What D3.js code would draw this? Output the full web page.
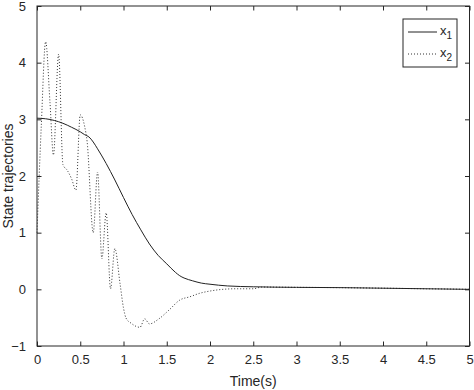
<!DOCTYPE html>
<html>
<head>
<meta charset="utf-8">
<script src="https://cdn.jsdelivr.net/npm/d3@7"></script>
<style>
    body { margin: 0; background: #fff; }
    #chart text { font-family: "Liberation Sans", Arial, sans-serif; fill: #262626; }
</style>
</head>
<body>
<div id="chart"></div>
<script>
// x1 (solid) samples
const timeX1 = [0, 0.1, 0.2, 0.3, 0.4, 0.5, 0.55, 0.6, 0.65, 0.7, 0.8, 0.9, 1.0, 1.1, 1.2, 1.3, 1.4, 1.5, 1.6, 1.65, 1.7, 1.8, 1.9, 2.0, 2.2, 2.5, 3.0, 3.5, 4.0, 4.5, 5.0];
const valuesX1 = [3.02, 3.01, 2.98, 2.93, 2.86, 2.78, 2.73, 2.69, 2.6, 2.48, 2.22, 1.93, 1.62, 1.32, 1.05, 0.8, 0.6, 0.45, 0.3, 0.24, 0.2, 0.15, 0.11, 0.09, 0.06, 0.045, 0.035, 0.03, 0.02, 0.01, 0.0];

// x2 (dotted) samples
const timeX2 = [0, 0.05, 0.1, 0.15, 0.19, 0.25, 0.3, 0.35, 0.4, 0.45, 0.5, 0.55, 0.58, 0.65, 0.7, 0.75, 0.8, 0.85, 0.9, 0.96, 1.0, 1.03, 1.09, 1.19, 1.245, 1.3, 1.41, 1.53, 1.65, 1.77, 1.88, 2.0, 2.15, 2.3, 2.5, 2.6, 3.0, 3.5, 4.0, 4.5, 5.0];
const valuesX2 = [1.0, 2.9, 4.37, 3.3, 2.37, 4.15, 2.2, 2.1, 1.95, 1.75, 3.08, 2.88, 2.6, 1.0, 2.07, 0.54, 1.35, 0.01, 0.72, 0.1, -0.33, -0.51, -0.6, -0.67, -0.52, -0.61, -0.52, -0.36, -0.19, -0.13, -0.07, -0.03, 0.0, 0.01, 0.01, 0.04, 0.035, 0.03, 0.02, 0.01, 0.0];

const xTicks = [0, 0.5, 1, 1.5, 2, 2.5, 3, 3.5, 4, 4.5, 5];
const yTicks = [-1, 0, 1, 2, 3, 4, 5];

const seriesNames = ["x1", "x2"];

document.addEventListener("DOMContentLoaded", function () {
    const margin = { top: 6, right: 4.5, bottom: 44, left: 37 },
        width = 474 - margin.left - margin.right,
        height = 390 - margin.top - margin.bottom;

    const svg = d3.select("#chart")
        .append("svg")
        .attr("width", 474)
        .attr("height", 390);

    const chart = svg.append("g")
        .attr("transform", `translate(${margin.left},${margin.top})`);

    // scales
    const x = d3.scaleLinear().domain([0, 5]).range([0, width]);
    const y = d3.scaleLinear().domain([-1, 5]).range([height, 0]);

    const line = d3.line()
        .x(d => x(d[0]))
        .y(d => y(d[1]))
        .curve(d3.curveMonotoneX);

    const dataX1 = timeX1.map((t, i) => [t, valuesX1[i]]);
    const dataX2 = timeX2.map((t, i) => [t, valuesX2[i]]);

    // curves
    chart.append("path")
        .datum(dataX2)
        .attr("fill", "none")
        .attr("stroke", "#333")
        .attr("stroke-width", 1)
        .attr("stroke-dasharray", "1,2")
        .attr("d", line);

    chart.append("path")
        .datum(dataX1)
        .attr("fill", "none")
        .attr("stroke", "#222")
        .attr("stroke-width", 1)
        .attr("d", line);

    // axes, ticks pointing inward on all four sides
    const tickLen = 4.5;
    const axisStyle = g => {
        g.select(".domain").remove();
        g.selectAll("line").attr("stroke", "#262626");
        g.selectAll("text").style("font-size", "13px");
    };

    chart.append("g")
        .attr("transform", `translate(0,${height})`)
        .call(d3.axisBottom(x).tickValues(xTicks).tickFormat(d3.format("")).tickSizeInner(-tickLen).tickPadding(9))
        .call(axisStyle);

    chart.append("g")
        .call(d3.axisTop(x).tickValues(xTicks).tickSizeInner(-tickLen).tickFormat(""))
        .call(axisStyle);

    chart.append("g")
        .call(d3.axisLeft(y).tickValues(yTicks).tickFormat(d3.format("")).tickSizeInner(-tickLen).tickPadding(11))
        .call(axisStyle);

    chart.append("g")
        .attr("transform", `translate(${width},0)`)
        .call(d3.axisRight(y).tickValues(yTicks).tickSizeInner(-tickLen).tickFormat(""))
        .call(axisStyle);

    chart.append("rect")
        .attr("width", width)
        .attr("height", height)
        .attr("fill", "none")
        .attr("stroke", "#262626")
        .attr("stroke-width", 1);

    // axis titles
    svg.append("text")
        .attr("x", margin.left + width / 2)
        .attr("y", 386)
        .attr("text-anchor", "middle")
        .style("font-size", "14px")
        .text("Time(s)");

    svg.append("text")
        .attr("transform", `translate(13,${margin.top + height / 2}) rotate(-90)`)
        .attr("text-anchor", "middle")
        .style("font-size", "14px")
        .text("State trajectories");

    // legend
    const legend = svg.append("g").attr("transform", "translate(403,19)");
    legend.append("rect")
        .attr("width", 54)
        .attr("height", 48)
        .attr("fill", "#fff")
        .attr("stroke", "#262626")
        .attr("stroke-width", 1);

    seriesNames.forEach((name, i) => {
        const ly = 13 + i * 22;
        legend.append("line")
            .attr("x1", 5).attr("x2", 34)
            .attr("y1", ly).attr("y2", ly)
            .attr("stroke", i === 0 ? "#222" : "#333")
            .attr("stroke-dasharray", i === 0 ? null : "1,2");
        const t = legend.append("text")
            .attr("x", 37)
            .attr("y", ly + 3)
            .style("font-size", "13px");
        t.append("tspan").text(name.charAt(0));
        t.append("tspan").attr("dy", 4).style("font-size", "10px").text(name.slice(1));
    });
});
</script>
</body>
</html>
